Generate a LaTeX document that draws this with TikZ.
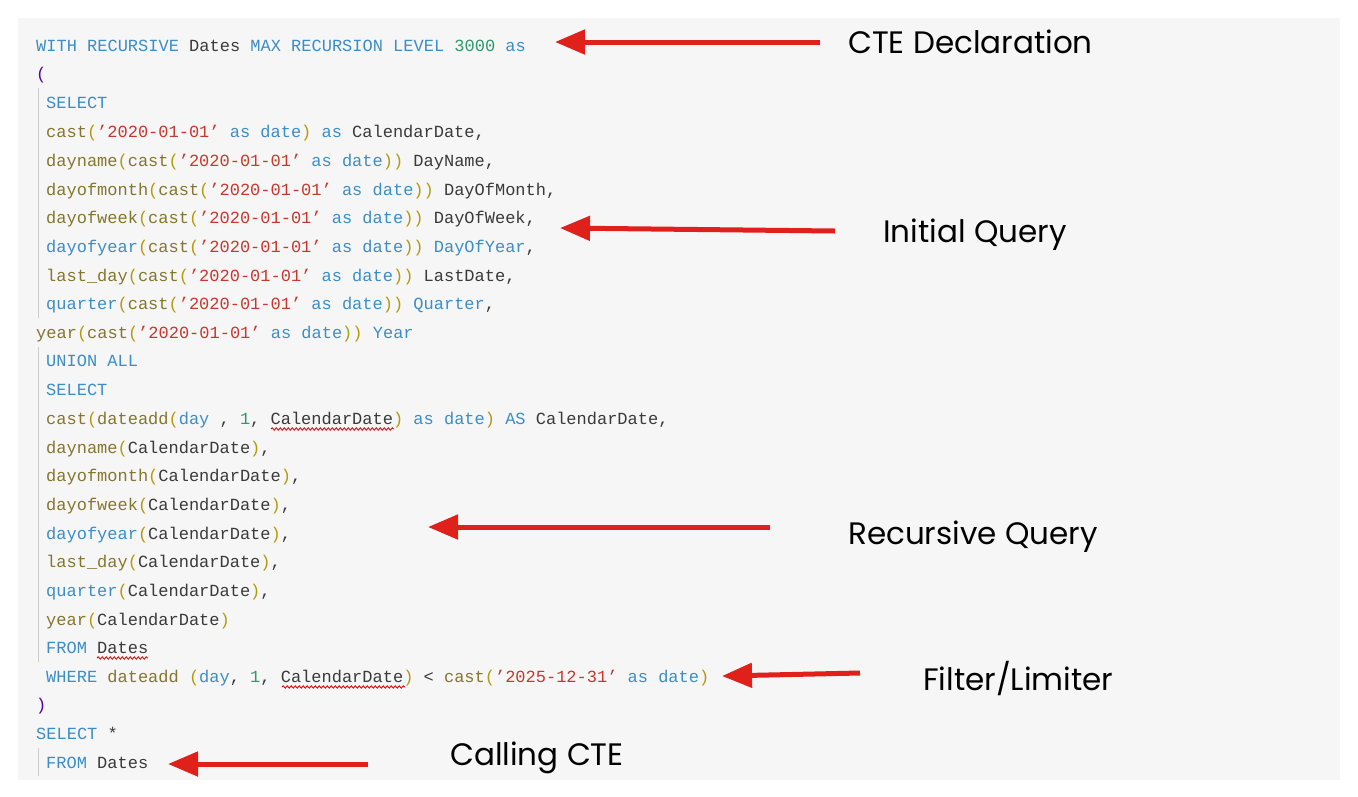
\documentclass[tikz,border=0pt]{standalone}
\usepackage{fontspec}
\setmainfont{Liberation Mono}
\newfontfamily\hand{Poppins}
\usetikzlibrary{arrows.meta,decorations.pathmorphing}
\definecolor{kwc}{HTML}{3C8DC8}
\definecolor{fnc}{HTML}{85762E}
\definecolor{stc}{HTML}{C8372D}
\definecolor{numc}{HTML}{2E9A6A}
\definecolor{idc}{HTML}{3A3A3A}
\definecolor{pac}{HTML}{B39A10}
\definecolor{arr}{HTML}{E0201B}
\newcommand{\kw}[1]{\textcolor{kwc}{#1}}
\newcommand{\fn}[1]{\textcolor{fnc}{#1}}
\newcommand{\st}[1]{\textcolor{stc}{\char39 #1\char39}}
\newcommand{\nm}[1]{\textcolor{numc}{#1}}
\newcommand{\pa}[1]{\textcolor{pac}{#1}}
\newcommand{\cd}{\fn{cast}\pa{(}\st{2020-01-01} \kw{as} \kw{date}\pa{)}}
\begin{document}
\begin{tikzpicture}[x=1pt,y=-1pt,
  code/.style={anchor=base west,inner sep=0pt,font=\fontsize{17}{18}\selectfont,text=idc},
  lab/.style={anchor=west,inner sep=0pt,font=\hand\fontsize{31}{34}\selectfont,text=black},
  rarr/.style={arr,line width=5pt,-{Triangle[length=30pt,width=24pt]}},
  squig/.style={red!80!black,line width=0.8pt,decorate,decoration={snake,amplitude=1.2pt,segment length=4pt}}]
\useasboundingbox (0,0) rectangle (1358,796);
\fill[white] (0,0) rectangle (1358,796);
\fill[gray!7] (18,18) rectangle (1340,780);
\draw[gray!40,line width=1pt] (38,88) -- (38,318);
\draw[gray!40,line width=1pt] (38,347) -- (38,662);
\draw[gray!40,line width=1pt] (38,748) -- (38,776);
\def\LX{46}
\node[code] (l1) at (36,51) {\kw{WITH RECURSIVE} Dates \kw{MAX RECURSION LEVEL} \nm{3000} \kw{as}};
\node[code] (l2) at (36,79) {\textcolor{violet!70!blue}{(}};
\node[code] (l3) at (\LX,108) {\kw{SELECT}};
\node[code] (l4) at (\LX,137) {\cd{} \kw{as} CalendarDate,};
\node[code] (l5) at (\LX,166) {\fn{dayname}\pa{(}\cd\pa{)} DayName,};
\node[code] (l6) at (\LX,195) {\fn{dayofmonth}\pa{(}\cd\pa{)} DayOfMonth,};
\node[code] (l7) at (\LX,223) {\fn{dayofweek}\pa{(}\cd\pa{)} DayOfWeek,};
\node[code] (l8) at (\LX,252) {\kw{dayofyear}\pa{(}\cd\pa{)} \kw{DayOfYear},};
\node[code] (l9) at (\LX,281) {\fn{last\_day}\pa{(}\cd\pa{)} LastDate,};
\node[code] (l10) at (\LX,309) {\kw{quarter}\pa{(}\cd\pa{)} \kw{Quarter},};
\node[code] (l11) at (36,338) {\fn{year}\pa{(}\cd\pa{)} \kw{Year}};
\node[code] (l12) at (\LX,366) {\kw{UNION ALL}};
\node[code] (l13) at (\LX,395) {\kw{SELECT}};
\node[code] (l14) at (\LX,424) {\fn{cast}\pa{(}\fn{dateadd}\pa{(}\kw{day} , \nm{1}, CalendarDate\pa{)} \kw{as} \kw{date}\pa{)} \kw{AS} CalendarDate,};
\node[code] (l15) at (\LX,453) {\fn{dayname}\pa{(}CalendarDate\pa{)},};
\node[code] (l16) at (\LX,481) {\fn{dayofmonth}\pa{(}CalendarDate\pa{)},};
\node[code] (l17) at (\LX,510) {\fn{dayofweek}\pa{(}CalendarDate\pa{)},};
\node[code] (l18) at (\LX,539) {\kw{dayofyear}\pa{(}CalendarDate\pa{)},};
\node[code] (l19) at (\LX,567) {\fn{last\_day}\pa{(}CalendarDate\pa{)},};
\node[code] (l20) at (\LX,596) {\kw{quarter}\pa{(}CalendarDate\pa{)},};
\node[code] (l21) at (\LX,625) {\fn{year}\pa{(}CalendarDate\pa{)}};
\node[code] (l22) at (\LX,653) {\kw{FROM} Dates};
\node[code] (l23) at (\LX,682) {\kw{WHERE} \fn{dateadd} \pa{(}\kw{day}, \nm{1}, CalendarDate\pa{)} < \fn{cast}\pa{(}\st{2025-12-31} \kw{as} \kw{date}\pa{)}};
\node[code] (l24) at (36,710) {\textcolor{violet!70!blue}{)}};
\node[code] (l25) at (36,739) {\kw{SELECT} *};
\node[code] (l26) at (\LX,768) {\kw{FROM} Dates};
\draw[squig] (271,429) -- (394,429);
\draw[squig] (97,658) -- (148,658);
\draw[squig] (282,687) -- (405,687);
\node[lab] (t1) at (848,42) {CTE Declaration};
\node[lab] (t2) at (883,235) {Initial Query};
\node[lab] (t3) at (848,537) {Recursive Query};
\node[lab] (t4) at (923,679) {Filter/Limiter};
\node[lab] (t5) at (450,758) {Calling CTE};
\coordinate (e1) at (555,42);
\coordinate (e2) at (560,228);
\coordinate (e3) at (428,527);
\coordinate (e4) at (722,676);
\coordinate (e5) at (168,764);
\draw[rarr] (820,42) -- (e1);
\draw[rarr] (835,231) -- (e2);
\draw[rarr] (770,527) -- (e3);
\draw[rarr] (860,673) -- (e4);
\draw[rarr] (368,764) -- (e5);
\end{tikzpicture}
\end{document}
